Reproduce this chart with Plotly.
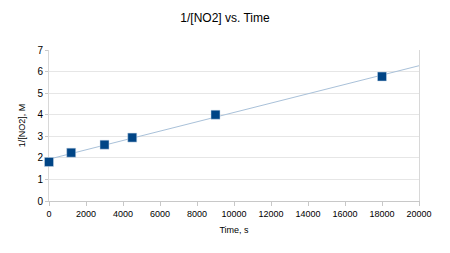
import numpy as np
import plotly.graph_objects as go

time_s = [0, 1200, 3000, 4500, 9000, 18000]
inv_no2 = [1.81, 2.24, 2.61, 2.94, 4.0, 5.77]
x_ticks = list(range(0, 20001, 2000))
y_ticks = list(range(0, 8))

slope, intercept = np.polyfit(time_s, inv_no2, 1)
trend_x = [0, 20000]
trend_y = [intercept + slope * v for v in trend_x]

fig = go.Figure()
fig.add_trace(go.Scatter(x=trend_x, y=trend_y, mode="lines",
                         line=dict(color="#a9c1d9", width=1), hoverinfo="skip"))
fig.add_trace(go.Scatter(x=time_s, y=inv_no2, mode="markers", cliponaxis=False,
                         marker=dict(symbol="square", size=9, color="#004586",
                                     line=dict(color="#c8d8e8", width=0.5))))

fig.update_layout(
    width=450, height=253,
    margin=dict(l=49, r=31, t=50, b=52),
    paper_bgcolor="white", plot_bgcolor="white",
    showlegend=False,
    font=dict(family="Liberation Sans, Arial, sans-serif", color="#000000"),
    title=dict(text="1/[NO2] vs. Time", x=0.5, xanchor="center", y=0.93, yanchor="middle",
               font=dict(size=12)),
)
fig.update_xaxes(range=[0, 20000], tickvals=x_ticks, ticktext=[str(v) for v in x_ticks],
                 showgrid=False, zeroline=False, showline=True, linecolor="#c8c8c8",
                 linewidth=1, ticks="outside", ticklen=4, tickcolor="#c8c8c8",
                 tickfont=dict(size=9), layer="below traces",
                 title=dict(text="Time, s", font=dict(size=9), standoff=8))
fig.update_yaxes(range=[0, 7], tickvals=y_ticks, showgrid=True, gridcolor="#e6e6e6",
                 gridwidth=1, zeroline=False, showline=True, mirror=True,
                 linecolor="#d8d8d8", linewidth=1, ticks="outside", ticklen=3,
                 tickcolor="#c8c8c8", tickfont=dict(size=10), layer="below traces",
                 title=dict(text="1/[NO2], M", font=dict(size=9), standoff=10))

fig.write_html("out.html")
